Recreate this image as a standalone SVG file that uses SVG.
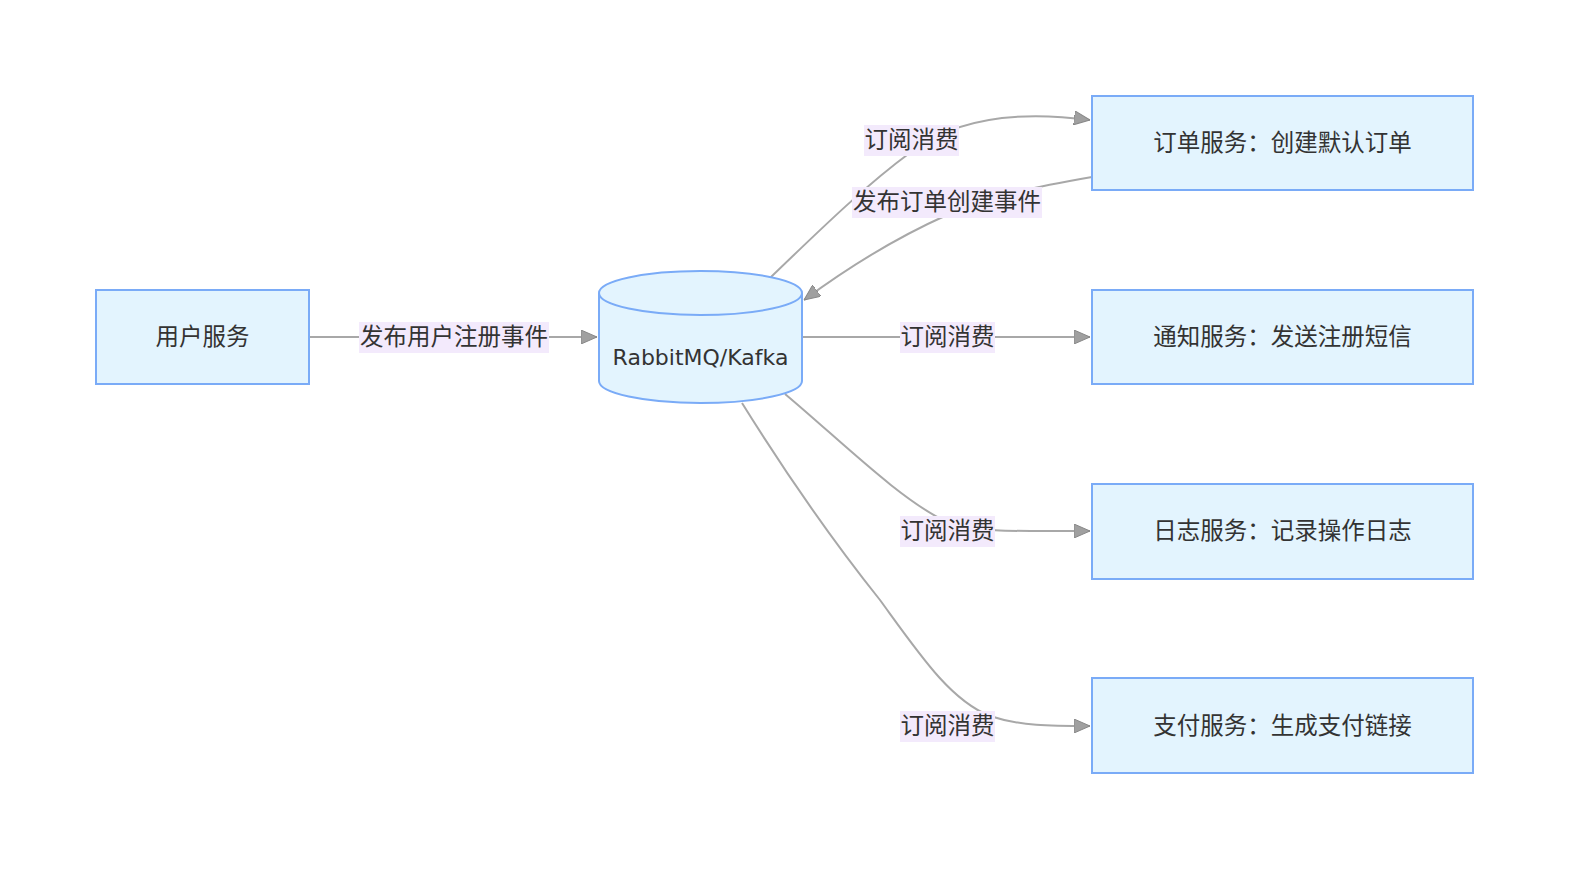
<svg xmlns="http://www.w3.org/2000/svg" width="1581" height="876" viewBox="0 0 1581 876">
<style>
.node{fill:#e3f4fe;stroke:#7aabf7;stroke-width:2}
.t{font-family:"DejaVu Sans","Noto Sans CJK SC",sans-serif;font-size:23.5px;fill:#333;text-anchor:middle;dominant-baseline:central}
.edge{fill:none;stroke:#a8a8a8;stroke-width:2}
.lbg{fill:#f3eafc}
</style>
<defs>
<marker id="arr" markerUnits="userSpaceOnUse" markerWidth="16" markerHeight="14" refX="16" refY="7" orient="auto">
<path d="M0,0 L16,7 L0,14 z" fill="#a0a0a0" stroke="#888" stroke-width="1"/>
</marker>
</defs>
<rect width="1581" height="876" fill="#fff"/>
<g id="connectors">
<path class="edge" d="M309,337 L597,337" marker-end="url(#arr)"/>
<path class="edge" d="M771,277 C830,220 870,182 911,152 C945,126 1000,108 1090,120" marker-end="url(#arr)"/>
<path class="edge" d="M1092,177 C1040,186 990,196 947,215 C900,236 850,266 804,300" marker-end="url(#arr)"/>
<path class="edge" d="M802,337 L1090,337" marker-end="url(#arr)"/>
<path class="edge" d="M785,394 C840,440 900,500 947,522 C980,533 1020,531 1090,531" marker-end="url(#arr)"/>
<path class="edge" d="M742,403 C790,480 840,550 880,600 C920,655 950,700 990,716 C1020,726 1050,726 1090,726" marker-end="url(#arr)"/>
</g>
<g id="edge-labels">
<rect class="lbg" x="359" y="322" width="190" height="31"/>
<text class="t" x="454" y="337">发布用户注册事件</text>
<rect class="lbg" x="864" y="125" width="95" height="31"/>
<text class="t" x="911.5" y="140">订阅消费</text>
<rect class="lbg" x="852" y="187" width="190" height="31"/>
<text class="t" x="947" y="202">发布订单创建事件</text>
<rect class="lbg" x="900" y="322" width="95" height="31"/>
<text class="t" x="947.5" y="337">订阅消费</text>
<rect class="lbg" x="900" y="516" width="95" height="31"/>
<text class="t" x="947.5" y="531">订阅消费</text>
<rect class="lbg" x="900" y="711" width="95" height="31"/>
<text class="t" x="947.5" y="726">订阅消费</text>
</g>
<g id="user-service">
<rect class="node" x="96" y="290" width="213" height="94"/>
<text class="t" x="202.5" y="337">用户服务</text>
</g>
<g id="mq">
<path class="node" d="M599,293 A101.5,22 0 0 1 802,293 L802,381 A101.5,22 0 0 1 599,381 Z"/>
<path class="node" fill="none" d="M599,293 A101.5,22 0 0 0 802,293"/>
<text class="t" x="700.5" y="357" style="font-size:22px">RabbitMQ/Kafka</text>
</g>
<g id="order-service">
<rect class="node" x="1092" y="96" width="381" height="94"/>
<text class="t" x="1282.5" y="143">订单服务：创建默认订单</text>
</g>
<g id="notify-service">
<rect class="node" x="1092" y="290" width="381" height="94"/>
<text class="t" x="1282.5" y="337">通知服务：发送注册短信</text>
</g>
<g id="log-service">
<rect class="node" x="1092" y="484" width="381" height="95"/>
<text class="t" x="1282.5" y="531">日志服务：记录操作日志</text>
</g>
<g id="pay-service">
<rect class="node" x="1092" y="678" width="381" height="95"/>
<text class="t" x="1282.5" y="726">支付服务：生成支付链接</text>
</g>
</svg>
